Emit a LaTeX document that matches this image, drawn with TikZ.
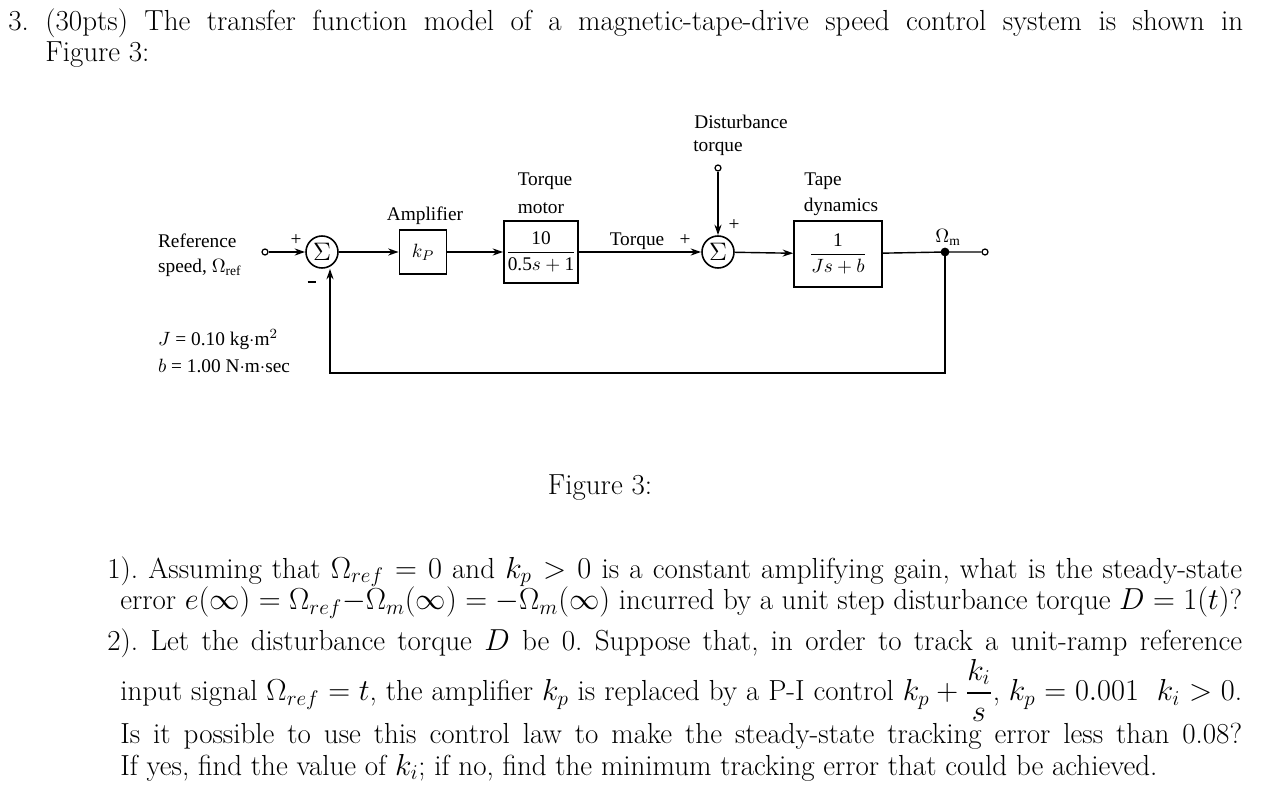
\documentclass[tikz,border=0pt]{standalone}
\usepackage{fontspec}
\usepackage{amsmath}
\newfontfamily\dia{Liberation Serif}
\usetikzlibrary{arrows.meta}
\begin{document}
\frenchspacing
\begin{tikzpicture}[x=0.02cm,y=-0.02cm,
  blk/.style={draw,line width=0.9pt,inner sep=0pt},
  sum/.style={draw,circle,line width=0.9pt,minimum size=32*0.02cm,inner sep=0pt,font=\fontsize{14}{14}\selectfont},
  term/.style={draw,circle,line width=0.7pt,minimum size=6*0.02cm,inner sep=0pt,fill=white},
  lab/.style={font=\dia\fontsize{11}{12}\selectfont,inner sep=1pt},
  sig/.style={line width=0.8pt},
  arr/.style={sig,-{Stealth[length=6pt,width=4pt]}},
  txt/.style={anchor=north west,inner sep=0pt,align=justify,font=\fontsize{16.5}{18}\selectfont}]
\useasboundingbox (0,0) rectangle (1276,794);
% text
\node[txt,text width=24.7cm] (t1) at (8,8) {3. (30pts) The transfer function model of a magnetic-tape-drive speed control system is shown in\linebreak\hspace*{0.74cm}Figure 3:};
% diagram
\node[term] (in) at (265,252) {};
\node[sum] (s1) at (322,252) {$\Sigma$};
\node[blk,minimum width=47*0.02cm,minimum height=44*0.02cm,font=\dia\fontsize{11}{12}\selectfont\itshape] (amp) at (423,252) {$k_P$};
\node[blk,minimum width=74*0.02cm,minimum height=62*0.02cm,font=\dia\fontsize{11}{12}\selectfont] (tm) at (541,252) {$\dfrac{\text{10}}{\text{0.5}s+\text{1}}$};
\node[sum] (s2) at (718,252) {$\Sigma$};
\node[blk,minimum width=88*0.02cm,minimum height=66*0.02cm,font=\dia\fontsize{11}{12}\selectfont] (td) at (838,254) {$\dfrac{\text{1}}{Js+b}$};
\coordinate (br) at (945,252);
\node[term] (out) at (985,252) {};
\node[term] (dist) at (718,168) {};
\coordinate (fb1) at (945,373);
\coordinate (fb2) at (330,373);
\fill (br) circle (2.5pt);
\draw[arr] (in) -- (s1);
\draw[arr] (s1) -- (amp);
\draw[arr] (amp) -- (tm);
\draw[arr] (tm) -- (s2);
\draw[arr] (s2) -- (td);
\draw[sig] (td) -- (br) -- (out);
\draw[arr] (dist) -- (s2);
\draw[arr] (br) -- (fb1) -- (fb2) -- (fb2|-s1.south);
% labels
\node[lab] (l1) at (741,122) {Disturbance};
\node[lab] (l2) at (718,148) {torque};
\node[lab] (l3) at (545,181) {Torque};
\node[lab] (l4) at (541,208) {motor};
\node[lab] (l5) at (823,181) {Tape};
\node[lab] (l6) at (841,207) {dynamics};
\node[lab] (l7) at (425,216) {Amplifier};
\node[lab,anchor=west] (l8) at (156,241) {Reference};
\node[lab,anchor=west] (l9) at (156,268) {speed, $\Omega_{\text{ref}}$};
\node[lab] (l10) at (637,241) {Torque};
\node[lab] (p1) at (296,240) {+};
\node[lab] (p2) at (685,240) {+};
\node[lab] (p3) at (734,225) {+};
\node[lab] (m1) at (312,282) {\rule{5pt}{0.8pt}};
\node[lab] (om) at (948,237) {$\Omega_{\text{m}}$};
\node[lab,anchor=west] (j1) at (156,340) {$J$ = 0.10 kg$\cdot$m$^2$};
\node[lab,anchor=west] (j2) at (156,366) {$b$ = 1.00 N$\cdot$m$\cdot$sec};
\node[font=\fontsize{16.5}{18}\selectfont] (fig) at (600,488) {Figure 3:};
\node[txt,text width=22.7cm] (q1) at (107,556) {1). Assuming that $\Omega_{ref}=0$ and $k_p>0$ is a constant amplifying gain, what is the steady-state\linebreak\hspace*{0.26cm}error $e(\infty)=\Omega_{ref}{-}\Omega_m(\infty)=-\Omega_m(\infty)$ incurred by a unit step disturbance torque $D=1(t)$?};
\node[txt,text width=22.7cm] (q2) at (107,628) {2). Let the disturbance torque $D$ be 0. Suppose that, in order to track a unit-ramp reference\linebreak\hspace*{0.26cm}input signal $\Omega_{ref}=t$, the amplifier $k_p$ is replaced by a P-I control $k_p+\dfrac{k_i}{s}$, $k_p=0.001$\ \ $k_i>0$.\linebreak\hspace*{0.26cm}Is it possible to use this control law to make the steady-state tracking error less than 0.08?\linebreak\hspace*{0.26cm}If yes, find the value of $k_i$; if no, find the minimum tracking error that could be achieved.};
\end{tikzpicture}
\end{document}
